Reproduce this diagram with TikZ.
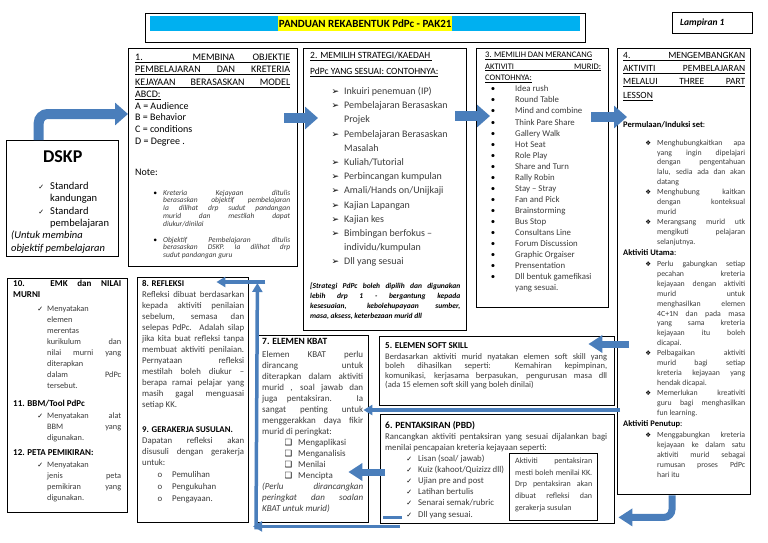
\documentclass[tikz,border=0pt]{standalone}
\usepackage{fontspec}
\setmainfont{Carlito}
\newfontfamily\symfont{DejaVu Sans}
\usepackage{xcolor}
\definecolor{cArrow}{HTML}{4A7EBB}
\definecolor{cBar}{HTML}{00B0F0}
\definecolor{cMark}{HTML}{FFFF00}
\definecolor{cBody}{HTML}{3B3B3B}
\usepackage{tikz}
\usetikzlibrary{positioning,arrows.meta,calc}
\hyphenpenalty=10000
\exhyphenpenalty=10000
\tolerance=9999
\emergencystretch=6pt
\hbadness=10000
\vbadness=10000

% list item on one paragraph: [gap] indent, mark, text
\newcommand{\litem}[4][5pt]{\par{\leftskip=#2\relax\noindent\llap{#3\hspace{#1}}#4\par}}
% list lines, one paragraph each: first line (justified / natural), next line (justified / natural)
\newcommand{\mline}[4][5pt]{\par{\noindent\hspace*{#2}\llap{#3\hspace{#1}}\makebox[\dimexpr\hsize-#2\relax][s]{#4}\par}}
\newcommand{\mlast}[4][5pt]{\par{\noindent\hspace*{#2}\llap{#3\hspace{#1}}#4\par}}
\newcommand{\jline}[2]{\par{\noindent\hspace*{#1}\makebox[\dimexpr\hsize-#1\relax][s]{#2}\par}}
\newcommand{\eline}[2]{\par{\noindent\hspace*{#1}#2\par}}
% underlined line stretched to full width
\newcommand{\ujust}[1]{\noindent\underline{\makebox[\hsize][s]{#1}}\par}
\newcommand{\chk}{{\color{black}\symfont\fontsize{7}{8}\selectfont ✓}}
\newcommand{\arr}{{\color{black}\symfont\fontsize{9}{9}\selectfont ➢}}
\newcommand{\dia}{{\color{black}\symfont\fontsize{6.5}{7}\selectfont ❖}}
\newcommand{\sqb}{{\color{black}\symfont\fontsize{8.5}{9}\selectfont ❑}}
\newcommand{\bdot}{{\color{black}•}}

\tikzset{
  box-frame/.style={draw=black,line width=1.4pt,anchor=north west,inner sep=0pt},
  box-text/.style={anchor=north west,inner sep=0pt,align=justify},
  arrow-big/.style={draw=cArrow,line width=10pt,-{Triangle[length=13pt,width=22pt]}},
  arrow-mid/.style={draw=cArrow,line width=7pt,-{Triangle[length=14pt,width=17pt]}},
  arrow-thin/.style={draw=cArrow,line width=3.5pt,-{Triangle[length=9pt,width=10pt]}},
  line-blue/.style={draw=cArrow,line width=3.5pt},
}

\begin{document}
\begin{tikzpicture}[x=1pt,y=-1pt]
  \useasboundingbox (0,0) rectangle (768,543);

  % title
  \node[box-frame,line width=0.8pt,minimum width=440pt,minimum height=29pt] (ttl-box) at (145,13) {};
  \node[fill=cBar,anchor=north west,inner sep=0pt,minimum width=430pt,minimum height=15pt] (ttl-bar) at (150,16) {};
  \node[fill=cMark,inner xsep=1pt,inner ysep=0pt,minimum height=15pt,
    font=\bfseries\fontsize{11}{12}\selectfont] (ttl) at (ttl-bar.center) {PANDUAN REKABENTUK PdPc - PAK21};
  \node[box-frame,line width=0.8pt,minimum width=80pt,minimum height=21pt] (lamp) at (672,12) {};
  \node[anchor=west,inner sep=0pt,font=\bfseries\itshape\fontsize{9.5}{10}\selectfont] (lamp-t)
    at ($(lamp.west)+(8,0)$) {Lampiran 1};

  % DSKP
  \node[box-frame,minimum width=112pt,minimum height=116pt] (dskp) at (6,140) {};
  \node[font=\bfseries\fontsize{18}{20}\selectfont] (dskp-t) at ($(dskp.north)+(0,17)$) {DSKP};
  \node[box-text,text width=104pt,font=\fontsize{10.5}{12.3}\selectfont] (dskp-b) at (11,177) {%
    \mlast[6pt]{39pt}{\chk}{Standard}
    \eline{39pt}{kandungan}
    \mlast[6pt]{39pt}{\chk}{Standard}
    \eline{39pt}{pembelajaran}
    {\itshape\eline{0pt}{(Untuk membina}\eline{0pt}{objektif pembelajaran}}};

  % 1
  \node[box-frame,minimum width=169pt,minimum height=218pt] (b1) at (128,48) {};
  \node[box-text,text width=155pt,font=\fontsize{10}{12.3}\selectfont] (b1-t) at ($(b1.north west)+(7,6)$) {%
    \ujust{1. MEMBINA OBJEKTIE}
    \ujust{PEMBELAJARAN DAN KRETERIA}
    \ujust{KEJAYAAN BERASASKAN MODEL}
    \noindent\underline{ABCD:}\par
    {\fontsize{10}{11.7}\selectfont A = Audience\par B = Behavior\par C = conditions\par D = Degree .\par}
    \vspace{18.5pt}
    Note:\par
    \vspace{12pt}
    {\itshape\color{cBody}\fontsize{7.5}{7.9}\selectfont
    \mline[6pt]{28pt}{\bdot}{Kreteria Kejayaan ditulis}
    \jline{28pt}{berasaskan objektif pembelajaran}
    \jline{28pt}{Ia dilihat drp sudut pandangan}
    \jline{28pt}{murid dan mestilah dapat}
    \eline{28pt}{diukur/dinilai}
    \vspace{7.5pt}
    \mline[6pt]{28pt}{\bdot}{Objektif Pembelajaran ditulis}
    \jline{28pt}{berasaskan DSKP. Ia dilihat drp}
    \eline{28pt}{sudut pandangan guru}
    }};

  % 2
  \node[box-frame,minimum width=163pt,minimum height=282pt] (b2) at (303,48) {};
  \node[box-text,text width=150pt,font=\fontsize{9.5}{16}\selectfont] (b2-t) at ($(b2.north west)+(7,4)$) {%
    \noindent\underline{2. MEMILIH STRATEGI/KAEDAH\ }\par
    \noindent\underline{PdPc YANG SESUAI: CONTOHNYA:}\par
    \vspace{5.5pt}
    {\fontsize{10}{14.2}\selectfont\color{cBody}
    \litem{34pt}{\arr}{Inkuiri penemuan (IP)}
    \litem{34pt}{\arr}{Pembelajaran Berasaskan\newline Projek}
    \litem{34pt}{\arr}{Pembelajaran Berasaskan\newline Masalah}
    \litem{34pt}{\arr}{Kuliah/Tutorial}
    \litem{34pt}{\arr}{Perbincangan kumpulan}
    \litem{34pt}{\arr}{Amali/Hands on/Unijkaji}
    \litem{34pt}{\arr}{Kajian Lapangan}
    \litem{34pt}{\arr}{Kajian kes}
    \litem{34pt}{\arr}{Bimbingan berfokus –\newline individu/kumpulan}
    \litem{34pt}{\arr}{Dll yang sesuai}
    }
    \vspace{14pt}
    {\bfseries\itshape\fontsize{7.5}{10}\selectfont [Strategi PdPc boleh dipilih dan digunakan\linebreak
      lebih drp 1 - bergantung kepada\linebreak kesesuaian, kebolehupayaan sumber,\linebreak
      masa, aksess, keterbezaan murid dll\par}};

  % 3
  \node[box-frame,minimum width=132pt,minimum height=259pt] (b3) at (476,48) {};
  \node[box-text,text width=116pt,font=\fontsize{8.5}{11.3}\selectfont] (b3-t) at ($(b3.north west)+(9,4)$) {%
    \noindent\underline{3. MEMILIH DAN MERANCANG}\par
    \ujust{AKTIVITI MURID:}
    \noindent\underline{CONTOHNYA:}\par
    \vspace{0.5pt}
    {\fontsize{8.8}{11.05}\selectfont\color{cBody}
    \litem[20pt]{30pt}{\bdot}{Idea rush}
    \litem[20pt]{30pt}{\bdot}{Round Table}
    \litem[20pt]{30pt}{\bdot}{Mind and combine}
    \litem[20pt]{30pt}{\bdot}{Think Pare Share}
    \litem[20pt]{30pt}{\bdot}{Gallery Walk}
    \litem[20pt]{30pt}{\bdot}{Hot Seat}
    \litem[20pt]{30pt}{\bdot}{Role Play}
    \litem[20pt]{30pt}{\bdot}{Share and Turn}
    \litem[20pt]{30pt}{\bdot}{Rally Robin}
    \litem[20pt]{30pt}{\bdot}{Stay – Stray}
    \litem[20pt]{30pt}{\bdot}{Fan and Pick}
    \litem[20pt]{30pt}{\bdot}{Brainstorming}
    \litem[20pt]{30pt}{\bdot}{Bus Stop}
    \litem[20pt]{30pt}{\bdot}{Consultans Line}
    \litem[20pt]{30pt}{\bdot}{Forum Discussion}
    \litem[20pt]{30pt}{\bdot}{Graphic Orgaiser}
    \litem[20pt]{30pt}{\bdot}{Prensentation}
    \litem[20pt]{30pt}{\bdot}{Dll bentuk gamefikasi\newline yang sesuai.}
    }};

  % 4
  \node[box-frame,minimum width=133pt,minimum height=446pt] (b4) at (617,48) {};
  \node[box-text,text width=122pt,font=\fontsize{9.5}{13.3}\selectfont] (b4-t) at ($(b4.north west)+(6,4)$) {%
    \ujust{4. MENGEMBANGKAN}
    \ujust{AKTIVITI PEMBELAJARAN}
    \ujust{MELALUI THREE PART}
    \noindent\underline{LESSON}\par
    \vspace{19pt}
    {\fontsize{8.5}{10}\selectfont\textbf{Permulaan/Induksi set}:\par}
    \vspace{8pt}
    {\fontsize{7.8}{9.9}\selectfont\color{cBody}
    \mline[6pt]{34pt}{\dia}{Menghubungkaitkan apa}
    \jline{34pt}{yang ingin dipelajari}
    \jline{34pt}{dengan pengentahuan}
    \jline{34pt}{lalu, sedia ada dan akan}
    \eline{34pt}{datang}
    \mline[6pt]{34pt}{\dia}{Menghubung kaitkan}
    \jline{34pt}{dengan konteksual}
    \eline{34pt}{murid}
    \mline[6pt]{34pt}{\dia}{Merangsang murid utk}
    \jline{34pt}{mengikuti pelajaran}
    \eline{34pt}{selanjutnya.}
    }
    {\fontsize{8.5}{11}\selectfont\textbf{Aktiviti Utama}:\par}
    \vspace{1.5pt}
    {\fontsize{7.8}{9.9}\selectfont\color{cBody}
    \mline[6pt]{34pt}{\dia}{Perlu gabungkan setiap}
    \jline{34pt}{pecahan kreteria}
    \jline{34pt}{kejayaan dengan aktiviti}
    \jline{34pt}{murid untuk}
    \jline{34pt}{menghasilkan elemen}
    \jline{34pt}{4C+1N dan pada masa}
    \jline{34pt}{yang sama kreteria}
    \jline{34pt}{kejayaan itu boleh}
    \eline{34pt}{dicapai.}
    \mline[6pt]{34pt}{\dia}{Pelbagaikan aktiviti}
    \jline{34pt}{murid bagi setiap}
    \jline{34pt}{kreteria kejayaan yang}
    \eline{34pt}{hendak dicapai.}
    \mline[6pt]{34pt}{\dia}{Memerlukan kreativiti}
    \jline{34pt}{guru bagi menghasilkan}
    \eline{34pt}{fun learning.}
    }
    {\fontsize{8.5}{11}\selectfont\textbf{Aktiviti Penutup}:\par}
    \vspace{1.5pt}
    {\fontsize{7.8}{9.9}\selectfont\color{cBody}
    \mline[6pt]{34pt}{\dia}{Menggabungkan kreteria}
    \jline{34pt}{kejayaan ke dalam satu}
    \jline{34pt}{aktiviti murid sebagai}
    \jline{34pt}{rumusan proses PdPc}
    \eline{34pt}{hari itu}
    }};

  % 10, 11, 12
  \node[box-frame,minimum width=120pt,minimum height=234pt] (b10) at (7,278) {};
  \node[box-text,text width=108pt,font=\fontsize{9}{11}\selectfont] (b10-t) at ($(b10.north west)+(6,2)$) {%
    \noindent\makebox[\hsize][s]{\bfseries 10. EMK dan NILAI}\par
    {\bfseries MURNI\par}
    \vspace{2.5pt}
    {\fontsize{8.3}{11}\selectfont\color{cBody}
    \mlast[4pt]{34pt}{\chk}{Menyatakan}
    \eline{34pt}{elemen}
    \eline{34pt}{merentas}
    \jline{34pt}{kurikulum dan}
    \jline{34pt}{nilai murni yang}
    \eline{34pt}{diterapkan}
    \jline{34pt}{dalam PdPc}
    \eline{34pt}{tersebut.}
    }
    \vspace{7.5pt}
    {\bfseries 11. BBM/Tool PdPc\par}
    \vspace{0.5pt}
    {\fontsize{8.3}{11}\selectfont\color{cBody}
    \mline[4pt]{34pt}{\chk}{Menyatakan alat}
    \jline{34pt}{BBM yang}
    \eline{34pt}{digunakan.}
    }
    \vspace{4.5pt}
    {\bfseries 12. PETA PEMIKIRAN:\par}
    \vspace{1pt}
    {\fontsize{8.3}{11}\selectfont\color{cBody}
    \mlast[4pt]{34pt}{\chk}{Menyatakan}
    \jline{34pt}{jenis peta}
    \jline{34pt}{pemikiran yang}
    \eline{34pt}{digunakan.}
    }};

  % 8, 9
  \node[box-frame,minimum width=111pt,minimum height=245pt] (b8) at (137,277) {};
  \node[box-text,text width=102pt,font=\fontsize{8.8}{11}\selectfont] (b8-t) at ($(b8.north west)+(5,3)$) {%
    \textbf{8. REFLEKSI}\par
    {\color{cBody}Refleksi dibuat berdasarkan\linebreak kepada aktiviti penilaian\linebreak sebelum, semasa dan\linebreak
      selepas PdPc. Adalah silap\linebreak jika kita buat refleksi tanpa\linebreak membuat aktiviti penilaian.\linebreak
      Pernyataan refleksi\linebreak mestilah boleh diukur –\linebreak berapa ramai pelajar yang\linebreak
      masih gagal menguasai\linebreak setiap KK.\par}
    \vspace{14pt}
    \textbf{9. GERAKERJA SUSULAN.}\par
    {\color{cBody}Dapatan refleksi akan\linebreak disusuli dengan gerakerja\linebreak untuk:\par
    \vspace{0.7pt}
    \fontsize{8.8}{12}\selectfont
    \litem[10pt]{30pt}{o}{Pemulihan}
    \litem[10pt]{30pt}{o}{Pengukuhan}
    \litem[10pt]{30pt}{o}{Pengayaan.}}
    };

  % 7
  \node[box-frame,minimum width=111pt,minimum height=187pt] (b7) at (257,335) {};
  \node[box-text,text width=101pt,font=\fontsize{9}{11}\selectfont] (b7-t) at ($(b7.north west)+(5,3)$) {%
    {\bfseries\fontsize{9.5}{11}\selectfont 7. ELEMEN KBAT\par}
    \vspace{2.5pt}
    {\color{cBody}Elemen KBAT perlu\linebreak dirancang untuk\linebreak diterapkan dalam aktiviti\linebreak
      murid , soal jawab dan\linebreak juga pentaksiran. Ia\linebreak sangat penting untuk\linebreak
      menggerakkan daya fikir\linebreak murid di peringkat:\par
    \litem[6pt]{36pt}{\sqb}{Mengaplikasi}
    \litem[6pt]{36pt}{\sqb}{Menganalisis}
    \litem[6pt]{36pt}{\sqb}{Menilai}
    \litem[6pt]{36pt}{\sqb}{Mencipta}
    {\itshape (Perlu dirancangkan\linebreak peringkat dan soalan\linebreak KBAT untuk murid)\par}}
    };

  % 5
  \node[box-frame,minimum width=235pt,minimum height=69pt] (b5) at (379,336) {};
  \node[box-text,text width=222pt,font=\fontsize{9}{10.5}\selectfont] (b5-t) at ($(b5.north west)+(6,6)$) {%
    \textbf{5. ELEMEN SOFT SKILL}\par
    \vspace{1.4pt}
    {\color{cBody}\fontsize{8.5}{9.6}\selectfont Berdasarkan aktiviti murid nyatakan elemen soft skill yang\linebreak
      boleh dihasilkan seperti: Kemahiran kepimpinan,\linebreak
      komunikasi, kerjasama berpasukan, pengurusan masa dll\linebreak
      (ada 15 elemen soft skill yang boleh dinilai)\par}};

  % 6
  \node[box-frame,minimum width=234pt,minimum height=109pt] (b6) at (380,414) {};
  \node[box-text,text width=222pt,font=\fontsize{8.8}{11.1}\selectfont] (b6-t) at ($(b6.north west)+(5,7)$) {%
    {\bfseries\fontsize{9.5}{11}\selectfont 6. PENTAKSIRAN (PBD)\par}
    {\color{cBody}Rancangkan aktiviti pentaksiran yang sesuai dijalankan bagi\linebreak
      menilai pencapaian kreteria kejayaan seperti:\par
    \litem[6pt]{33pt}{\chk}{Lisan (soal/ jawab)}
    \litem[6pt]{33pt}{\chk}{Kuiz (kahoot/Quizizz dll)}
    \litem[6pt]{33pt}{\chk}{Ujian pre and post}
    \litem[6pt]{33pt}{\chk}{Latihan bertulis}
    \litem[6pt]{33pt}{\chk}{Senarai semak/rubric}
    \litem[6pt]{33pt}{\chk}{Dll yang sesuai.}}
    };
  \node[box-frame,line width=0.8pt,minimum width=88pt,minimum height=67pt] (b6-in) at (509,453) {};
  \node[box-text,text width=77pt,font=\fontsize{8}{11.6}\selectfont] (b6-in-t) at ($(b6-in.north west)+(6,5)$) {%
    {\color{cBody}Aktiviti pentaksiran\linebreak mesti boleh menilai KK.\linebreak Drp pentaksiran akan\linebreak
      dibuat refleksi dan\linebreak gerakerja susulan\par}};

  % connectors
  \draw[arrow-big,rounded corners=9pt] ($(dskp.north)+(-24,0)$) |- ($(b1.north west)+(0,66)$);
  \draw[arrow-big] ($(b1.north east)+(-14,70)$) -- ($(b2.north west)+(15,70)$);
  \draw[arrow-big] ($(b2.north east)+(-12,68)$) -- ($(b3.north west)+(14,68)$);
  \draw[arrow-big] ($(b3.north east)+(-18,69)$) -- ($(b4.north west)+(10,69)$);
  \draw[arrow-mid,rounded corners=8pt] ($(b4.south west)+(55,0)$) |- ($(b6.south east)+(3,-7)$);
  \draw[arrow-mid] ($(b4.north west)+(12,296)$) -- ($(b5.north east)+(-27,8)$);
  \draw[arrow-thin] ($(b4.north west)+(3,362)$) -- ($(b7.north east)+(-6,75)$);
  \draw[arrow-mid] ($(b6.north west)+(5,58)$) -- ($(b7.north east)+(-21,137)$);
  \draw[line-blue] ($(b6.south west)+(22,-7)$) -- ($(b6.south west)+(3,-7)$);
  \draw[arrow-thin] ($(b6.south west)+(20,2)$) -- ($(b7.south west)+(-4,3)$);
  \draw[arrow-thin] ($(b7.south west)+(-1,6)$) -- ($(b8.north east)+(8,6)$);
  \draw[arrow-thin] ($(b8.north east)+(16,5)$) -- ($(b8.north east)+(-33,5)$);
\end{tikzpicture}
\end{document}
